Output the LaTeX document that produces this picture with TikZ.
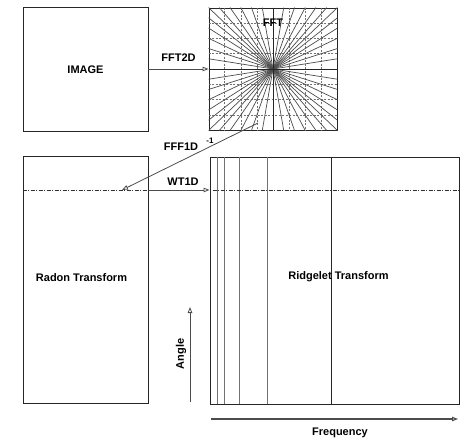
\documentclass[tikz,border=0pt]{standalone}
\usepackage{fontspec}
\setmainfont{Liberation Sans}
\usepackage{tikz}
\usetikzlibrary{calc,arrows.meta,positioning}
\definecolor{linegrey}{gray}{0.3}
\definecolor{gridgrey}{gray}{0.45}

\begin{document}
\begin{tikzpicture}[x=1pt,y=-1pt,font=\bfseries\fontsize{11}{13}\selectfont]

\tikzset{box/.style={draw=black!85,line width=0.9pt,shape=rectangle,inner sep=0pt},
openarrow/.style={-{Triangle[open,length=6pt,width=4.5pt]},color=linegrey,line width=0.8pt},
dashdot/.style={dash pattern=on 4pt off 1.5pt on 1pt off 1.5pt,line width=0.8pt,color=black!80},
gridline/.style={dash pattern=on 2pt off 1.5pt,line width=0.5pt,color=gridgrey},
rayline/.style={line width=0.7pt,color=linegrey}}

\useasboundingbox (0,0) rectangle (474,439);

% Boxes
\node (image) [box,minimum width=125,minimum height=124] at (85.5,69.5) {IMAGE};
\node (fft) [box,minimum width=128,minimum height=122] at (273,69) {};
\node (radon) [box,minimum width=125,minimum height=247] at (85.5,279.5) {};
\node (ridgelet) [box,minimum width=249,minimum height=247] at (334.5,280.5) {};

% FFT grid
\foreach \i in {1,2,3,5,6,7} \draw[gridline] ($(fft.north west)!\i/8!(fft.north east)$) -- ($(fft.south west)!\i/8!(fft.south east)$); % vertical
\foreach \i in {1,2,3,5,6,7} \draw[gridline] ($(fft.north west)!\i/8!(fft.south west)$) -- ($(fft.north east)!\i/8!(fft.south east)$); % horizontal
\foreach \k in {0,...,12} \draw[rayline] ($(fft.north west)!\k/12!(fft.north east)$) -- ($(fft.south east)!\k/12!(fft.south west)$);
\foreach \k in {1,...,11} \draw[rayline] ($(fft.north west)!\k/12!(fft.south west)$) -- ($(fft.south east)!\k/12!(fft.north east)$);
\draw[line width=0.9pt,black!85] (fft.north) -- (fft.south); \draw[line width=0.9pt,black!85] (fft.west) -- (fft.east);
\node (fftLabel) at ($(fft.north)+(0,15)$) {FFT};

% Ridgelet frequency bands
\foreach \x in {8,15,30,58} \draw[line width=0.5pt,color=gridgrey] ($(ridgelet.north west)+(\x,0)$) -- ($(ridgelet.south west)+(\x,0)$);
\draw[line width=0.8pt,black!85] ($(ridgelet.north west)+(122,0)$) -- ($(ridgelet.south west)+(122,0)$);
\node (ridgeletLabel) at ($(ridgelet.center)+(4,-4)$) {Ridgelet Transform};
\node (radonLabel) at ($(radon.center)+(-4,-2)$) {Radon Transform};

% Dash-dot rows
\draw[dashdot] ($(radon.west)+(0,-89.5)$) -- ($(radon.east)+(0,-89.5)$);
\draw[dashdot] ($(ridgelet.west)+(3,-90.5)$) -- ($(ridgelet.east)+(0,-90.5)$);

% Transforms
\draw[openarrow] (image.east |- fft.west) -- (fft.west);
\node (fft2d) at ($(image.east)!0.5!(fft.west)+(0,-12)$) {FFT2D};
\coordinate (fftPt) at (258,123);
\coordinate (radonPt) at (122,190);
\draw[openarrow] (fftPt) -- (radonPt);
\node (fff1d) at (181,147) {FFF1D};
\node[font=\bfseries\fontsize{8}{9}\selectfont] (inv) at (210,141) {-1};
\draw[openarrow] ($(radon.east)+(0,-89.5)$) -- ($(ridgelet.west)+(0,-90.5)$);
\node (wt1d) at (183,182) {WT1D};

% Axes
\coordinate (angleLow) at (190,402);
\coordinate (angleHigh) at (190,307);
\draw[openarrow] (angleLow) -- (angleHigh);
\node[rotate=90] (angleLabel) at (181,354) {Angle};
\coordinate (freqLow) at (211,419);
\coordinate (freqHigh) at (458,419);
\draw[openarrow,line width=1.1pt] (freqLow) -- (freqHigh);
\node (freqLabel) at (340,433) {Frequency};

\end{tikzpicture}
\end{document}
